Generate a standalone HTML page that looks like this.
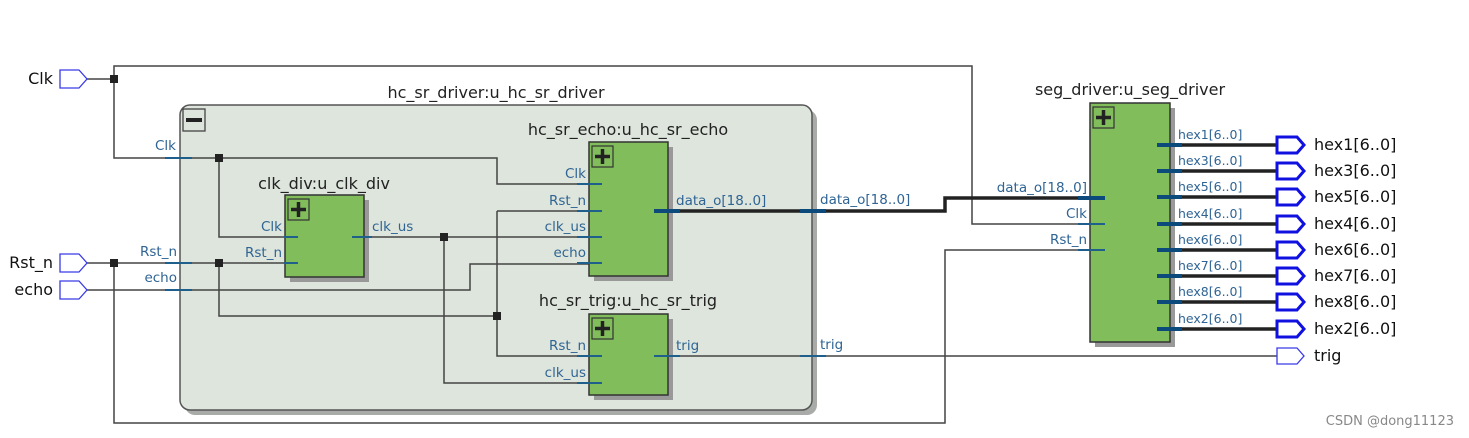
<!DOCTYPE html>
<html><head><meta charset="utf-8"><style>
html,body{margin:0;padding:0;background:#fff;}
svg{display:block;}
text{font-family:"DejaVu Sans","Liberation Sans",sans-serif;}
.t{font-size:16px;fill:#222;}
.p{font-size:13.5px;fill:#2f6494;}
.pin{font-size:16px;fill:#111;}
.w{stroke:#444;stroke-width:1.5;fill:none;}
.b{stroke:#222;stroke-width:3.5;fill:none;}
.blk{fill:#82bd5c;stroke:#333;stroke-width:1.5;}
.sh{fill:#999;}
.st{stroke:#1f5f8b;stroke-width:2;}
.stb{stroke:#0b4a7a;stroke-width:4;}
</style></head><body>
<svg width="1469" height="438" viewBox="0 0 1469 438" xmlns="http://www.w3.org/2000/svg">
<rect x="185" y="110" width="632" height="305" rx="10" fill="#a9aba8"/>
<rect x="180" y="105" width="632" height="305" rx="10" fill="#dde5dc" stroke="#555" stroke-width="1.5"/>
<rect x="183" y="109" width="22" height="22" fill="none" stroke="#444" stroke-width="1.3"/>
<rect x="186" y="118" width="16" height="4" fill="#222"/>
<text class="t" x="496" y="98" text-anchor="middle">hc_sr_driver:u_hc_sr_driver</text>

<path class="w" d="M87 79 H114 V66 H972 V224 H1105"/>
<path class="w" d="M114 79 V158 H497 V184 H602"/>
<path class="w" d="M219 158 V237 H298"/>
<path class="w" d="M352 237 H602"/>
<path class="w" d="M444 237 V383 H602"/>
<path class="w" d="M87 263 H298"/>
<path class="w" d="M219 263 V316 H497"/>
<path class="w" d="M497 211 H602 M497 211 V356 H602"/>
<path class="w" d="M114 263 V423 H945 V250 H1105"/>
<path class="w" d="M87 290 H470 V264 H602"/>
<path class="w" d="M654 356 H1277"/>
<path class="b" d="M654 211 H945 V198 H1105"/>
<g fill="#222">
<rect x="110" y="75" width="8" height="8"/>
<rect x="215" y="154" width="8" height="8"/>
<rect x="110" y="259" width="8" height="8"/>
<rect x="215" y="259" width="8" height="8"/>
<rect x="440" y="233" width="8" height="8"/>
<rect x="493" y="312" width="8" height="8"/>
</g>
<g class="st">
<line x1="165" y1="158" x2="192" y2="158"/>
<line x1="165" y1="263" x2="192" y2="263"/>
<line x1="165" y1="290" x2="192" y2="290"/>
<line x1="800" y1="356" x2="826" y2="356"/>
</g>
<line class="stb" x1="800" y1="211" x2="826" y2="211"/>

<rect class="sh" x="290" y="200" width="79" height="82"/>
<rect class="blk" x="285" y="195" width="79" height="82"/>
<rect x="288" y="199" width="21" height="21" fill="none" stroke="#333" stroke-width="1.2"/>
<path d="M298.5 202 V217 M291 209.5 H306" stroke="#222" stroke-width="3.5"/>
<text class="t" x="324" y="189" text-anchor="middle">clk_div:u_clk_div</text>

<rect class="sh" x="594" y="147" width="79" height="134"/>
<rect class="blk" x="589" y="142" width="79" height="134"/>
<rect x="592" y="146" width="21" height="21" fill="none" stroke="#333" stroke-width="1.2"/>
<path d="M602.5 149 V164 M595 156.5 H610" stroke="#222" stroke-width="3.5"/>
<text class="t" x="628" y="135" text-anchor="middle">hc_sr_echo:u_hc_sr_echo</text>

<rect class="sh" x="594" y="319" width="79" height="81"/>
<rect class="blk" x="589" y="314" width="79" height="81"/>
<rect x="592" y="318" width="21" height="21" fill="none" stroke="#333" stroke-width="1.2"/>
<path d="M602.5 321 V336 M595 328.5 H610" stroke="#222" stroke-width="3.5"/>
<text class="t" x="628" y="306" text-anchor="middle">hc_sr_trig:u_hc_sr_trig</text>

<rect class="sh" x="1095" y="108" width="80" height="239"/>
<rect class="blk" x="1090" y="103" width="80" height="239"/>
<rect x="1093" y="107" width="21" height="21" fill="none" stroke="#333" stroke-width="1.2"/>
<path d="M1103.5 110 V125 M1096 117.5 H1111" stroke="#222" stroke-width="3.5"/>
<text class="t" x="1130" y="95" text-anchor="middle">seg_driver:u_seg_driver</text>

<g class="st">
<line x1="284" y1="237" x2="298" y2="237"/>
<line x1="284" y1="263" x2="298" y2="263"/>
<line x1="352" y1="237" x2="372" y2="237"/>
<line x1="577" y1="184" x2="602" y2="184"/>
<line x1="577" y1="211" x2="602" y2="211"/>
<line x1="577" y1="237" x2="602" y2="237"/>
<line x1="577" y1="263" x2="602" y2="263"/>
<line x1="577" y1="356" x2="602" y2="356"/>
<line x1="577" y1="383" x2="602" y2="383"/>
<line x1="654" y1="356" x2="680" y2="356"/>
<line x1="1078" y1="224" x2="1105" y2="224"/>
<line x1="1078" y1="250" x2="1105" y2="250"/>
</g>
<line class="stb" x1="654" y1="211" x2="680" y2="211"/>
<line class="stb" x1="1078" y1="198" x2="1105" y2="198"/>

<g class="p">
<text x="176" y="150" text-anchor="end">Clk</text>
<text x="177" y="256" text-anchor="end">Rst_n</text>
<text x="177" y="282" text-anchor="end">echo</text>
<text x="282" y="231" text-anchor="end">Clk</text>
<text x="282" y="257" text-anchor="end">Rst_n</text>
<text x="372" y="231">clk_us</text>
<text x="586" y="178" text-anchor="end">Clk</text>
<text x="586" y="205" text-anchor="end">Rst_n</text>
<text x="586" y="231" text-anchor="end">clk_us</text>
<text x="586" y="257" text-anchor="end">echo</text>
<text x="586" y="350" text-anchor="end">Rst_n</text>
<text x="586" y="377" text-anchor="end">clk_us</text>
<text x="676" y="205">data_o[18..0]</text>
<text x="676" y="350">trig</text>
<text x="820" y="204">data_o[18..0]</text>
<text x="820" y="349">trig</text>
<text x="1087" y="192" text-anchor="end">data_o[18..0]</text>
<text x="1087" y="218" text-anchor="end">Clk</text>
<text x="1087" y="244" text-anchor="end">Rst_n</text>
</g>

<g>
<path class="b" d="M1157 145 H1276 M1157 171 H1276 M1157 197 H1276 M1157 224 H1276 M1157 250 H1276 M1157 276 H1276 M1157 302 H1276 M1157 329 H1276"/>
<g class="stb">
<line x1="1157" y1="145" x2="1182" y2="145"/><line x1="1157" y1="171" x2="1182" y2="171"/>
<line x1="1157" y1="197" x2="1182" y2="197"/><line x1="1157" y1="224" x2="1182" y2="224"/>
<line x1="1157" y1="250" x2="1182" y2="250"/><line x1="1157" y1="276" x2="1182" y2="276"/>
<line x1="1157" y1="302" x2="1182" y2="302"/><line x1="1157" y1="329" x2="1182" y2="329"/>
</g>
<g fill="#fff" stroke="#1010e0" stroke-width="3">
<path d="M1277 137 H1297 L1304 145 L1297 153 H1277 Z"/>
<path d="M1277 163 H1297 L1304 171 L1297 179 H1277 Z"/>
<path d="M1277 189 H1297 L1304 197 L1297 205 H1277 Z"/>
<path d="M1277 216 H1297 L1304 224 L1297 232 H1277 Z"/>
<path d="M1277 242 H1297 L1304 250 L1297 258 H1277 Z"/>
<path d="M1277 268 H1297 L1304 276 L1297 284 H1277 Z"/>
<path d="M1277 294 H1297 L1304 302 L1297 310 H1277 Z"/>
<path d="M1277 321 H1297 L1304 329 L1297 337 H1277 Z"/>
</g>
<g class="p" style="font-size:12.5px">
<text x="1178" y="139">hex1[6..0]</text><text x="1178" y="165">hex3[6..0]</text>
<text x="1178" y="191">hex5[6..0]</text><text x="1178" y="218">hex4[6..0]</text>
<text x="1178" y="244">hex6[6..0]</text><text x="1178" y="270">hex7[6..0]</text>
<text x="1178" y="296">hex8[6..0]</text><text x="1178" y="323">hex2[6..0]</text>
</g>
<g class="pin">
<text x="1314" y="150">hex1[6..0]</text><text x="1314" y="176">hex3[6..0]</text>
<text x="1314" y="202">hex5[6..0]</text><text x="1314" y="229">hex4[6..0]</text>
<text x="1314" y="255">hex6[6..0]</text><text x="1314" y="281">hex7[6..0]</text>
<text x="1314" y="307">hex8[6..0]</text><text x="1314" y="334">hex2[6..0]</text>
<text x="1314" y="361">trig</text>
</g>
</g>
<path d="M1277 348 H1297 L1304 356 L1297 364 H1277 Z" fill="#fff" stroke="#3a3ae8" stroke-width="1.3"/>

<g fill="#fff" stroke="#3a3ae8" stroke-width="1.3">
<path d="M60 70 H79 L87 79 L79 88 H60 Z"/>
<path d="M60 254 H79 L87 263 L79 272 H60 Z"/>
<path d="M60 281 H79 L87 290 L79 299 H60 Z"/>
</g>
<g class="pin">
<text x="53" y="84" text-anchor="end">Clk</text>
<text x="53" y="268" text-anchor="end">Rst_n</text>
<text x="53" y="295" text-anchor="end">echo</text>
</g>
<text x="1454" y="425" text-anchor="end" style="font-size:13px;fill:#888">CSDN @dong11123</text>
</svg>
</body></html>
